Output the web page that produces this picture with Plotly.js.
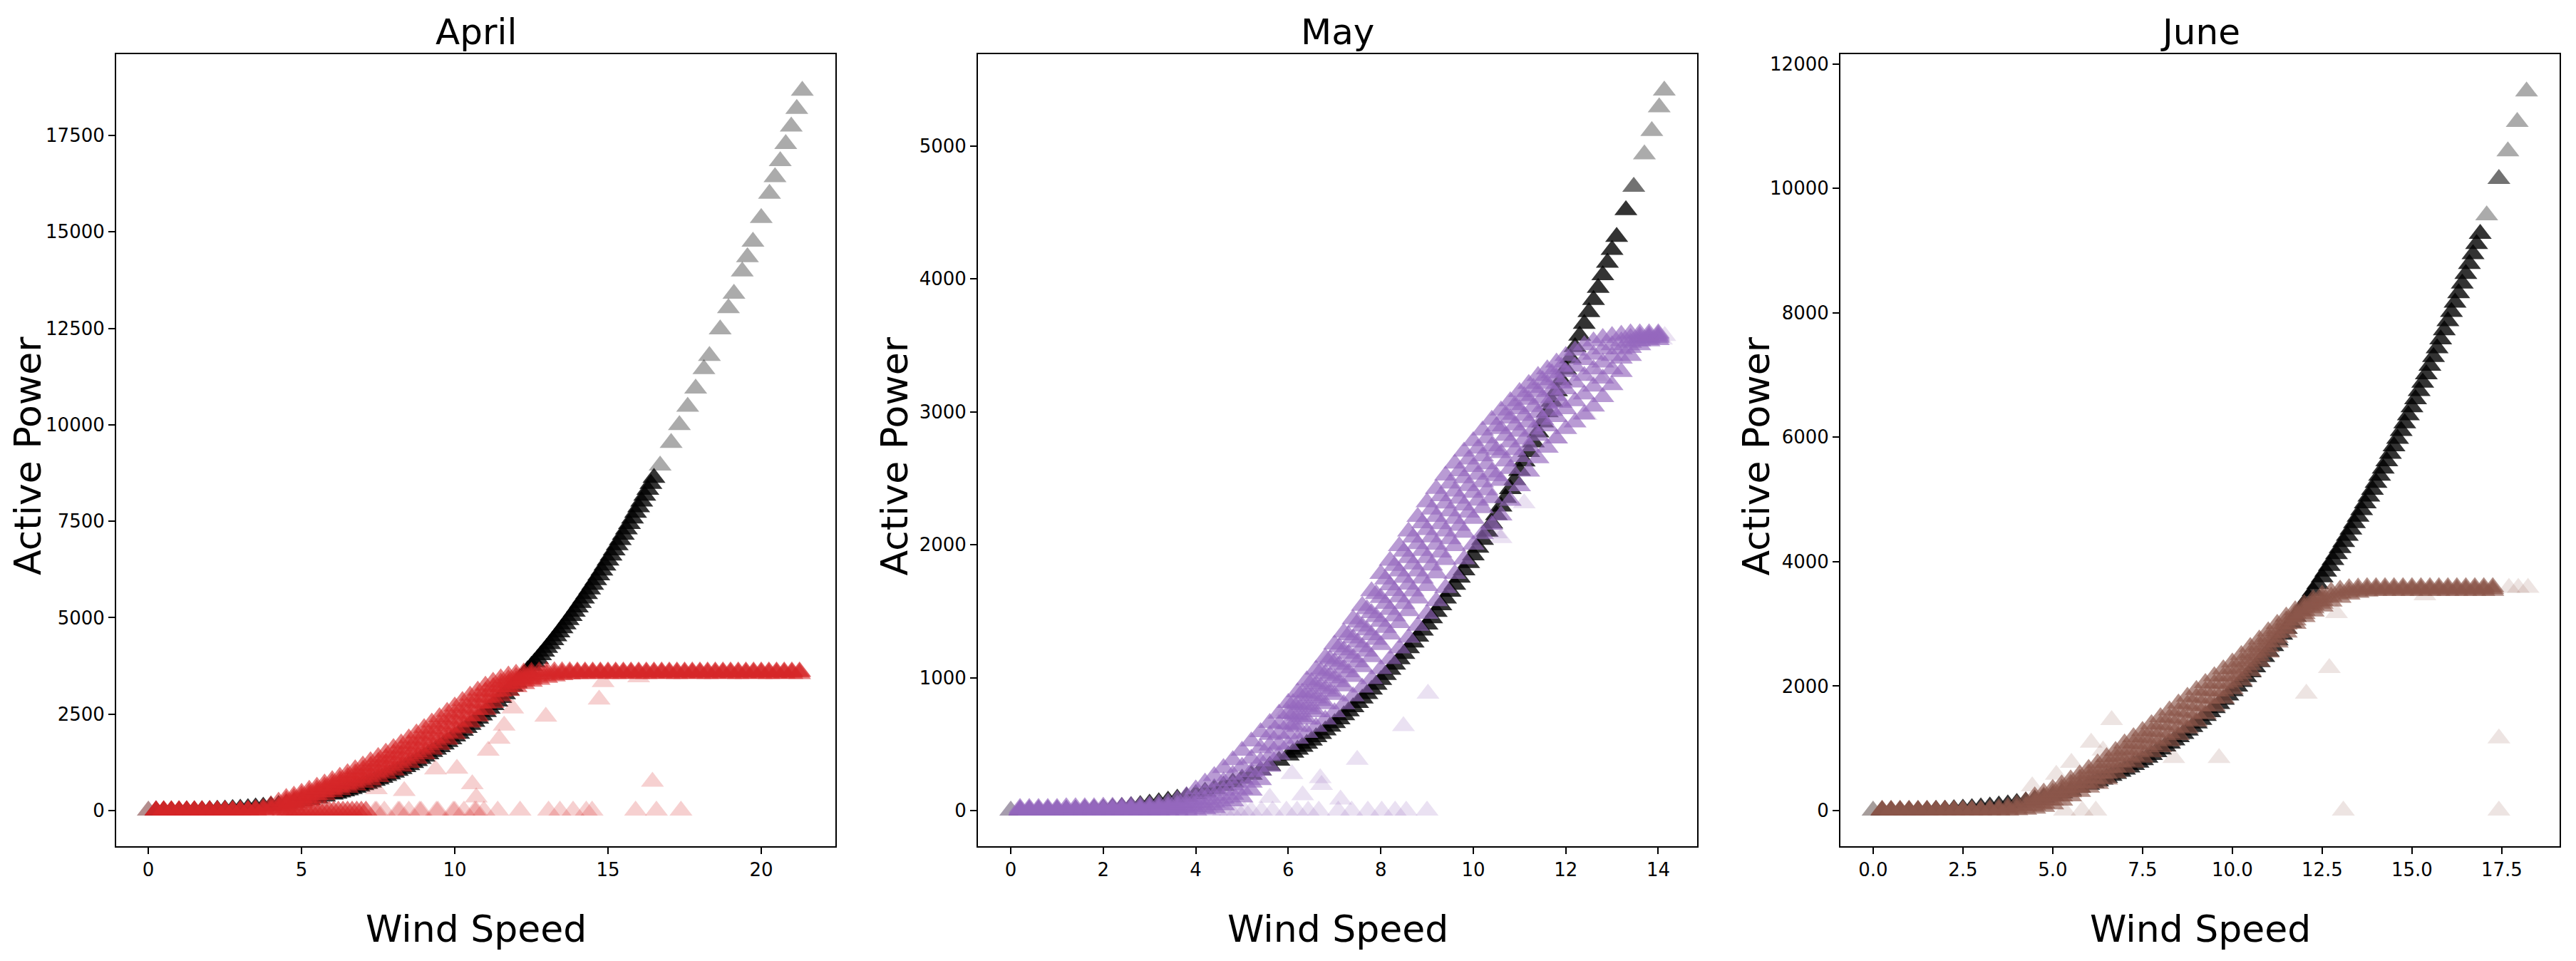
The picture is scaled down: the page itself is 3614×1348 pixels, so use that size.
<!DOCTYPE html>
<html>
<head>
<meta charset="utf-8">
<script src="https://cdn.plot.ly/plotly-3.0.1.min.js"></script>
<style>
html,body{margin:0;padding:0;background:#ffffff;}
#chart{width:3614px;height:1348px;}
</style>
</head>
<body>
<div id="chart"></div>
<script>
// ================= DATA =================
const monthNames = ['April', 'May', 'June'];
const xLabel = 'Wind Speed';
const yLabel = 'Active Power';

// ---- tick labels ----
const aprXTicks = [0, 5, 10, 15, 20];
const aprYTicks = [0, 2500, 5000, 7500, 10000, 12500, 15000, 17500];
const mayXTicks = [0, 2, 4, 6, 8, 10, 12, 14];
const mayYTicks = [0, 1000, 2000, 3000, 4000, 5000];
const junXTicks = [0, 2.5, 5, 7.5, 10, 12.5, 15, 17.5];
const junXTickText = ['0.0', '2.5', '5.0', '7.5', '10.0', '12.5', '15.0', '17.5'];
const junYTicks = [0, 2000, 4000, 6000, 8000, 10000, 12000];

// ---- theoretical power (black), shared low range for April / June ----
const theoWindLow = [0.25,0.5,0.75,1,1.25,1.5,1.75,2,2.25,2.5,2.75,3,3.25,3.5,3.75,4,4.25,4.5,4.75,5,5.25,5.5,5.75,6,6.25,6.5,6.75,7,7.25,7.5,7.75,8,8.25,8.5,8.75,9,9.25,9.5,9.75,10,10.25,10.5,10.75,11,11.25,11.5,11.75,12,12.25,12.5];
const theoPowerLow = [0,0,1,2,4,6,10,15,22,30,40,52,66,82,101,123,147,175,206,240,278,319,365,415,469,527,590,659,732,810,894,983,1078,1179,1286,1400,1520,1646,1780,1920,2068,2223,2385,2556,2734,2920,3115,3318,3529,3750];
const theoWindLowMid = [6.125,6.375,6.625,6.875,7.125,7.375,7.625,7.875,8.125,8.375,8.625,8.875,9.125,9.375,9.625,9.875,10.125,10.375,10.625,10.875,11.125,11.375,11.625,11.875,12.125,12.375];
const theoPowerLowMid = [441,497,558,624,694,770,851,938,1030,1128,1232,1342,1459,1582,1712,1849,1993,2144,2303,2469,2644,2826,3016,3215,3423,3639];

// ================= APRIL =================
const aprTheoWind = [12.7,12.9,13.1,13.3,13.5,13.7,13.9,14.1,14.3,14.5,14.7,14.9,15.1,15.3,15.5,15.7,15.9,16.1,16.3,16.5];
const aprTheoPower = [3933,4122,4316,4517,4724,4937,5156,5382,5614,5853,6099,6351,6610,6877,7150,7430,7718,8013,8315,8625];
const aprTheoMidWind = [12.6,12.8,13,13.2,13.4,13.6,13.8,14,14.2,14.4,14.6,14.8,15,15.2,15.4,15.6,15.8,16,16.2,16.4];
const aprTheoMidPower = [3841,4027,4218,4416,4620,4830,5046,5268,5497,5733,5975,6224,6480,6743,7012,7289,7573,7864,8163,8469];
const aprTheoSparseWind = [0,16.7,17.06,17.33,17.6,17.86,18.13,18.31,18.66,18.93,19.11,19.38,19.55,19.73,20.0,20.27,20.45,20.62,20.8,20.98,21.16,21.34];
const aprTheoSparsePower = [0,8942,9533,9993,10467,10938,11442,11786,12475,13024,13399,13975,14347,14747,15360,15990,16421,16833,17278,17731,18190,18659];

const aprWind = [0.25,0.5,0.75,1,1.25,1.5,1.75,2,2.25,2.5,2.75,3,3.25,3.5,3.75,4,4.25,4.5,4.75,5,5.25,5.5,5.75,6,6.25,6.5,6.75,7,7.25,7.5,7.75,8,8.25,8.5,8.75,9,9.25,9.5,9.75,10,10.25,10.5,10.75,11,11.25,11.5,11.75,12,12.25,12.5,12.75,13,13.25,13.5,13.75,14,14.25,14.5,14.75,15,15.25,15.5,15.75,16,16.25,16.5,16.75,17,17.25,17.5,17.75,18,18.25,18.5,18.75,19,19.25,19.5,19.75,20,20.25,20.5,20.75,21,21.25];
const aprLow = [0,0,0,0,0,0,0,0,0,0,0,0,
  0,0,0,10,30,
  70,130,200,250,330,400,475,530,590,650,720,790,870,955,1040,1140,1240,1345,1460,1580,1705,1840,1980,2130,2280,2440,2610,2790,2960,3100,3200,3280,3340,
  3390,3440,3480,3510,3530,
  3545,3540,3545,3550,3545,3540,3545,3550,3545,3540,3545,3550,3545,3540,3545,3550,3545,3540,3545,3550,3545,3540,3545,3550,3545,3540,3545,3550,3545,3540];
const aprMid = [5,5,5,5,5,5,5,5,5,5,5,5,
  10,15,30,60,110,
  200,260,330,395,475,550,630,705,780,860,945,1035,1130,1230,1330,1440,1555,1670,1800,1930,2060,2200,2340,2485,2630,2775,2925,3065,3195,3300,3375,3430,3470,
  3500,3530,3550,3565,3575,
  3585,3585,3585,3585,3585,3585,3585,3585,3585,3585,3585,3585,3585,3585,3585,3585,3585,3585,3585,3585,3585,3585,3585,3585,3585,3585,3585,3585,3585,3585];
const aprHigh = [15,15,15,15,15,15,15,15,15,15,15,20,
  25,40,70,140,230,
  330,390,460,540,620,700,790,880,970,1070,1170,1280,1390,1500,1620,1740,1870,2000,2140,2280,2420,2560,2700,2840,2980,3110,3240,3340,3430,3500,3550,3580,3600,
  3610,3615,3615,3615,3615,
  3610,3610,3610,3610,3610,3610,3610,3610,3610,3610,3610,3610,3610,3610,3610,3610,3610,3610,3610,3610,3610,3610,3610,3610,3610,3610,3610,3610,3610,3610];
const aprWindCore = [4.5,4.75,5,5.25,5.5,5.75,6,6.25,6.5,6.75,7,7.25,7.5,7.75,8,8.25,8.5,8.75,9,9.25,9.5,9.75,10,10.25,10.5,10.75,11,11.25,11.5,11.75,12,12.25,12.5];
const aprQ1 = [135,195,265,320,400,475,555,615,685,755,830,910,1000,1090,1185,1290,1400,1510,1630,1755,1885,2020,2160,2310,2455,2610,2770,2925,3080,3200,3290,3355,3405];
const aprQ3 = [265,325,395,465,545,625,710,790,875,965,1060,1160,1260,1365,1475,1590,1715,1835,1970,2105,2240,2380,2520,2660,2805,2945,3085,3200,3315,3400,3465,3505,3535];
const aprZeroWind = [4.4,4.55,4.7,4.85,5,5.15,5.3,5.45,5.6,5.75,5.9,6.05,6.2,6.35,6.5,6.65,6.8,6.95,7.1];
const aprZeroPower = [0,0,0,0,0,0,0,0,0,0,0,0,0,0,0,0,0,0,0];
const aprOutWind = [0,7.4,7.45,7.7,8.15,8.2,8.5,8.85,8.9,9.4,9.45,9.95,10,10.3,10.65,10.7,10.95,11.4,12.13,13.06,13.43,13.86,14.29,14.48,15.9,16.58,17.38,
  7.44,8.35,9.37,10.07,10.57,10.7,11.09,11.45,11.61,11.89,12.97,14.71,14.84,16.45,16.0];
const aprOutPower = [0,0,0,0,0,0,0,0,0,0,0,0,0,0,0,0,0,0,0,0,0,0,0,0,0,0,0,
  554,510,1065,1085,683,340,1553,1860,2204,2647,2434,2880,3330,750,3456];

// ================= MAY =================
const mayTheoWind = [0.2,0.4,0.6,0.8,1,1.2,1.4,1.6,1.8,2,2.2,2.4,2.6,2.8,3,3.2,3.4,3.6,3.8,4,4.2,4.4,4.6,4.8,5,5.2,5.4,5.6,5.8,6,6.2,6.4,6.6,6.8,7,7.2,7.4,7.6,7.8,8,8.2,8.4,8.6,8.8,9,9.2,9.4,9.6,9.8,10,10.2,10.4,10.6,10.8,11,11.2,11.4,11.6,11.8,12,12.2,12.4,12.6,12.8,13];
const mayTheoPower = [0,0,0,1,2,3,5,8,11,15,20,27,34,42,52,63,75,90,105,123,142,164,187,212,240,270,302,337,375,415,458,503,552,604,659,717,778,843,911,983,1059,1138,1221,1308,1400,1495,1595,1699,1807,1920,2037,2160,2287,2419,2556,2697,2845,2997,3155,3318,3487,3661,3841,4027,4218];
const mayTheoMidWind = [6.1,6.3,6.5,6.7,6.9,7.1,7.3,7.5,7.7,7.9,8.1,8.3,8.5,8.7,8.9,9.1,9.3,9.5,9.7,9.9,10.1,10.3,10.5,10.7,10.9,11.1,11.3,11.5,11.7,11.9,12.1,12.3,12.5,12.7,12.9,13.1,13.3];
const mayTheoMidPower = [436,480,527,577,631,687,747,810,877,947,1020,1098,1179,1264,1354,1447,1544,1646,1752,1863,1978,2098,2223,2352,2486,2626,2770,2920,3075,3236,3401,3573,3750,3933,4122,4316,4517];
const mayTheoSparseWind = [0,13.47,13.47,13.7,13.86,14.02,14.13];
const mayTheoSparsePower = [0,4693,4693,4937,5112,5291,5417];

const mayWind = [0.2,0.4,0.6,0.8,1,1.2,1.4,1.6,1.8,2,2.2,2.4,2.6,2.8,3,3.2,3.4,3.6,3.8,4,4.2,4.4,4.6,4.8,5,5.2,5.4,5.6,5.8,6,6.2,6.4,6.6,6.8,7,7.2,7.4,7.6,7.8,8,8.2,8.4,8.6,8.8,9,9.2,9.4,9.6,9.8,10,10.2,10.4,10.6,10.8,11,11.2,11.4,11.6,11.8,12,12.2,12.4,12.6,12.8,13,13.2,13.4,13.6,13.8,14];
const mayA = [0,0,0,0,0,0,0,0,0,0,0,0,0,0,0,0,0,0,0,0,
  10,20,40,70,100,150,230,330,420,495,
  540,585,630,685,740,800,860,925,990,1065,
  1140,1220,1300,1390,1480,1575,1675,1780,1890,2000,
  2080,2150,2220,2330,2440,2550,2650,2730,2800,2870,
  2920,2980,3040,3110,3200,3300,3420,3500,3530,3540];
const mayB = [0,0,0,0,0,0,0,0,0,0,0,0,0,0,0,0,5,10,15,25,
  40,60,90,120,160,210,300,410,500,575,
  630,685,740,800,870,935,1005,1080,1155,1245,
  1325,1410,1500,1595,1690,1785,1885,1990,2090,2195,
  2275,2350,2480,2570,2660,2740,2820,2890,2960,3020,
  3080,3130,3190,3250,3320,3400,3480,3530,3550,3555];
const mayC = [5,5,5,5,5,5,5,5,5,5,10,10,10,10,10,15,20,25,35,55,
  80,110,150,190,240,290,370,490,580,650,
  715,780,845,915,995,1070,1150,1230,1320,1420,
  1510,1605,1700,1800,1900,2000,2100,2195,2295,2390,
  2470,2545,2690,2770,2850,2920,2990,3060,3120,3170,
  3220,3270,3320,3370,3420,3470,3520,3550,3560,3565];
const mayD = [10,10,10,10,10,10,10,15,15,15,15,20,20,20,25,30,35,45,60,90,
  130,170,220,270,330,390,470,570,650,730,
  800,880,950,1030,1120,1205,1295,1385,1485,1600,
  1695,1800,1900,2005,2110,2210,2310,2400,2500,2585,
  2665,2740,2870,2950,3020,3090,3150,3210,3260,3300,
  3340,3390,3430,3470,3500,3530,3555,3570,3575,3580];
const mayE = [20,20,20,20,20,25,25,25,25,30,30,30,35,35,40,50,60,80,110,160,
  210,260,320,380,450,520,590,660,730,810,
  890,980,1060,1150,1250,1340,1440,1540,1650,1780,
  1880,1990,2100,2210,2320,2420,2520,2610,2700,2780,
  2860,2940,3010,3080,3150,3210,3270,3320,3370,3420,
  3460,3500,3530,3555,3570,3580,3590,3590,3590,3590];
const mayWindMid = [6.1,6.3,6.5,6.7,6.9,7.1,7.3,7.5,7.7,7.9,8.1,8.3,8.5,8.7,8.9,9.1,9.3,9.5,9.7,9.9,10.1,10.3,10.5,10.7,10.9,11.1,11.3,11.5,11.7,11.9];
const mayF = [642,702,762,825,895,967,1040,1116,1196,1285,1375,1462,1554,1649,1746,1844,1942,2042,2142,2242,2332,2410,2516,2627,2712,2792,2867,2940,3007,3067];
const mayG = [724,794,864,935,1015,1097,1180,1265,1355,1456,1556,1652,1751,1851,1954,2055,2155,2251,2347,2442,2527,2605,2711,2820,2897,2970,3037,3102,3162,3212];
const mayI = [808,888,968,1048,1138,1229,1320,1415,1515,1629,1739,1841,1948,2054,2161,2265,2365,2460,2553,2641,2723,2801,2890,2978,3050,3118,3180,3238,3290,3338];
const mayOutWind = [0,4.3,4.45,4.6,4.75,4.9,5.05,5.2,5.42,5.66,5.96,6.19,6.43,6.66,7.08,7.37,7.72,8.02,8.31,8.55,9.0,
  9.02,8.49,7.49,6.69,6.31,7.13,6.84,6.08,5.6,6.72,10.6,11.1,11.8,12.44,12.67,13.76,14.07,14.14,5.96,10.5];
const mayOutPower = [0,0,0,0,0,0,0,0,0,0,0,0,0,0,0,0,0,0,0,0,0,
  879,635,382,244,115,83,1128,275,97,193,2050,2312,2800,2976,3270,3544,3544,3570,750,2086];

// ================= JUNE =================
const junTheoWind = [12.7,12.9,13.1,13.3,13.5,13.7,13.9,14.1,14.3,14.5,14.7,14.9,15.1,15.3,15.5,15.7,15.9,16.1,16.3,16.5,16.7,16.9];
const junTheoPower = [3933,4122,4316,4517,4724,4937,5156,5382,5614,5853,6099,6351,6610,6877,7150,7430,7718,8013,8315,8625,8942,9267];
const junTheoMidWind = [12.6,12.8,13,13.2,13.4,13.6,13.8,14,14.2,14.4,14.6,14.8,15,15.2,15.4,15.6,15.8,16,16.2,16.4,16.6,16.8];
const junTheoMidPower = [3841,4027,4218,4416,4620,4830,5046,5268,5497,5733,5975,6224,6480,6743,7012,7289,7573,7864,8163,8469,8783,9104];
const junTheoSparseWind = [0,17.08,17.42,17.42,17.67,17.93,18.19];
const junTheoSparsePower = [0,9567,10149,10149,10593,11067,11556];

const junWind = [0.25,0.5,0.75,1,1.25,1.5,1.75,2,2.25,2.5,2.75,3,3.25,3.5,3.75,4,4.25,4.5,4.75,5,5.25,5.5,5.75,6,6.25,6.5,6.75,7,7.25,7.5,7.75,8,8.25,8.5,8.75,9,9.25,9.5,9.75,10,10.25,10.5,10.75,11,11.25,11.5,11.75,12,12.25,12.5,12.75,13,13.25,13.5,13.75,14,14.25,14.5,14.75,15,15.25,15.5,15.75,16,16.25,16.5,16.75,17,17.25];
const junLow = [0,0,0,0,0,0,0,0,0,0,0,0,
  0,0,0,5,15,
  30,60,100,160,230,300,370,430,500,600,690,770,850,935,1020,1115,1215,1320,1430,1550,1675,1800,1950,2090,2240,2390,2540,2700,2860,3000,3110,3200,3280,
  3360,3420,3470,3500,3520,
  3530,3530,3530,3530,3530,3530,3530,3530,3530,3530,3530,3530,3530,3530];
const junMid = [5,5,5,5,5,5,5,5,5,5,5,5,
  10,15,25,40,70,
  130,170,225,290,360,440,520,595,680,780,885,975,1065,1160,1260,1365,1470,1575,1685,1800,1915,2035,2165,2295,2435,2570,2710,2850,2990,3110,3210,3300,3370,
  3440,3490,3525,3545,3555,
  3560,3560,3560,3560,3560,3560,3560,3560,3560,3560,3560,3560,3560,3560];
const junHigh = [15,15,15,15,15,15,15,15,15,15,15,15,
  25,40,60,100,150,
  230,290,350,420,500,580,670,760,860,960,1080,1180,1280,1390,1500,1610,1720,1830,1940,2050,2160,2270,2380,2500,2630,2750,2880,3000,3120,3220,3320,3400,3470,
  3520,3550,3575,3585,3590,
  3590,3590,3590,3590,3590,3590,3590,3590,3590,3590,3590,3590,3590,3590];
const junWindCore = [4.5,4.75,5,5.25,5.5,5.75,6,6.25,6.5,6.75,7,7.25,7.5,7.75,8,8.25,8.5,8.75,9,9.25,9.5,9.75,10,10.25,10.5,10.75,11,11.25,11.5,11.75,12,12.25,12.5];
const junQ1 = [80,115,160,225,295,370,445,515,590,690,790,875,960,1050,1140,1240,1340,1450,1560,1675,1795,1915,2060,2195,2340,2480,2625,2775,2925,3055,3160,3250,3325];
const junQ3 = [180,230,290,355,430,510,595,680,770,870,985,1080,1175,1275,1380,1490,1595,1705,1815,1925,2035,2150,2275,2400,2530,2660,2795,2925,3055,3165,3265,3350,3420];
const junOutWind = [0,5.33,5.82,6.2,13.09,17.42,6.64,6.07,5.52,8.37,9.63,12.06,12.7,17.42,12.9,15.36,17.7,17.96,18.23,5.1,4.43,6.4];
const junOutPower = [0,0,0,0,0,0,1456,1092,768,846,846,1879,2292,1160,3173,3460,3580,3580,3580,576,390,964];

// ================= STYLE / LAYOUT =================
const W = 3614, H = 1348;
const FONT = 'DejaVu Sans';
const MS = 28;
const colors = {apr: '#d62728', may: '#9467bd', jun: '#8c564b', theo: '#000000'};
const boxPx = [[163, 1172], [1372, 2381], [2582, 3591]];
const yTopPx = 76, yBotPx = 1187;

function stack(xsList, ysList) {
  let x = [], y = [];
  for (let i = 0; i < ysList.length; i++) { x = x.concat(xsList[i]); y = y.concat(ysList[i]); }
  return {x: x, y: y};
}
function mk(d, color, opacity, n) {
  return {
    type: 'scatter', mode: 'markers', x: d.x, y: d.y,
    xaxis: n === 1 ? 'x' : 'x' + n, yaxis: n === 1 ? 'y' : 'y' + n,
    marker: {symbol: 'triangle-up', size: MS, color: color, opacity: opacity, line: {width: 0}},
    hoverinfo: 'skip', showlegend: false
  };
}

const traces = [
  // April
  mk(stack([theoWindLow, theoWindLowMid, aprTheoWind, aprTheoMidWind],
           [theoPowerLow, theoPowerLowMid, aprTheoPower, aprTheoMidPower]), colors.theo, 0.8, 1),
  mk({x: aprTheoSparseWind, y: aprTheoSparsePower}, colors.theo, 0.33, 1),
  mk(stack([aprWind, aprWind, aprWind, aprWindCore, aprWindCore, aprZeroWind],
           [aprLow, aprMid, aprHigh, aprQ1, aprQ3, aprZeroPower]), colors.apr, 0.6, 1),
  mk({x: aprOutWind, y: aprOutPower}, colors.apr, 0.22, 1),
  // May
  mk(stack([mayTheoWind, mayTheoMidWind], [mayTheoPower, mayTheoMidPower]), colors.theo, 0.8, 2),
  mk({x: mayTheoSparseWind, y: mayTheoSparsePower}, colors.theo, 0.33, 2),
  mk(stack([mayWind, mayWind, mayWind, mayWind, mayWind, mayWindMid, mayWindMid, mayWindMid],
           [mayA, mayB, mayC, mayD, mayE, mayF, mayG, mayI]), colors.may, 0.66, 2),
  mk({x: mayOutWind, y: mayOutPower}, colors.may, 0.2, 2),
  // June
  mk(stack([theoWindLow, theoWindLowMid, junTheoWind, junTheoMidWind],
           [theoPowerLow, theoPowerLowMid, junTheoPower, junTheoMidPower]), colors.theo, 0.8, 3),
  mk({x: junTheoSparseWind, y: junTheoSparsePower}, colors.theo, 0.33, 3),
  mk(stack([junWind, junWind, junWind, junWindCore, junWindCore],
           [junLow, junMid, junHigh, junQ1, junQ3]), colors.jun, 0.66, 3),
  mk({x: junOutWind, y: junOutPower}, colors.jun, 0.16, 3)
];

function axisBase() {
  return {
    showline: true, mirror: true, linecolor: '#000', linewidth: 2,
    ticks: 'outside', ticklen: 9, tickwidth: 2, tickcolor: '#000',
    showgrid: false, zeroline: false, automargin: false,
    tickfont: {family: FONT, size: 26, color: '#000'},
    tickmode: 'array', fixedrange: true
  };
}
function xAxis(i, range, vals, text) {
  return Object.assign(axisBase(), {
    domain: [boxPx[i][0] / W, boxPx[i][1] / W], range: range,
    anchor: i === 0 ? 'y' : 'y' + (i + 1),
    tickvals: vals, ticktext: text || vals.map(String)
  });
}
function yAxis(i, range, vals) {
  return Object.assign(axisBase(), {
    domain: [1 - yBotPx / H, 1 - yTopPx / H], range: range,
    anchor: i === 0 ? 'x' : 'x' + (i + 1),
    tickvals: vals, ticktext: vals.map(String)
  });
}

const titleY = 1 - 44.8 / H;
const xLabY = 1 - 1302.5 / H;
const yLabY = 1 - 640 / H;
const yLabX = [39 / W, 1254.5 / W, 2464.4 / W];

const annotations = [];
for (let i = 0; i < 3; i++) {
  const cx = (boxPx[i][0] + boxPx[i][1]) / 2 / W;
  annotations.push({text: monthNames[i], x: cx, y: titleY, xref: 'paper', yref: 'paper',
    xanchor: 'center', yanchor: 'middle', showarrow: false, font: {family: FONT, size: 50, color: '#000'}});
  annotations.push({text: xLabel, x: cx, y: xLabY, xref: 'paper', yref: 'paper',
    xanchor: 'center', yanchor: 'middle', showarrow: false, font: {family: FONT, size: 52, color: '#000'}});
  annotations.push({text: yLabel, x: yLabX[i], y: yLabY, xref: 'paper', yref: 'paper', textangle: -90,
    xanchor: 'center', yanchor: 'middle', showarrow: false, font: {family: FONT, size: 52, color: '#000'}});
}

const layout = {
  width: W, height: H,
  margin: {l: 0, r: 0, t: 0, b: 0, pad: 0},
  paper_bgcolor: '#ffffff', plot_bgcolor: '#ffffff',
  showlegend: false, hovermode: false,
  font: {family: FONT, color: '#000'},
  xaxis: xAxis(0, [-1.05, 22.42], aprXTicks),
  yaxis: yAxis(0, [-924, 19607], aprYTicks),
  xaxis2: xAxis(1, [-0.71, 14.84], mayXTicks),
  yaxis2: yAxis(1, [-268, 5690], mayYTicks),
  xaxis3: xAxis(2, [-0.91, 19.11], junXTicks, junXTickText),
  yaxis3: yAxis(2, [-573, 12155], junYTicks),
  annotations: annotations
};

Plotly.newPlot('chart', traces, layout, {staticPlot: true, displayModeBar: false});
</script>
</body>
</html>
